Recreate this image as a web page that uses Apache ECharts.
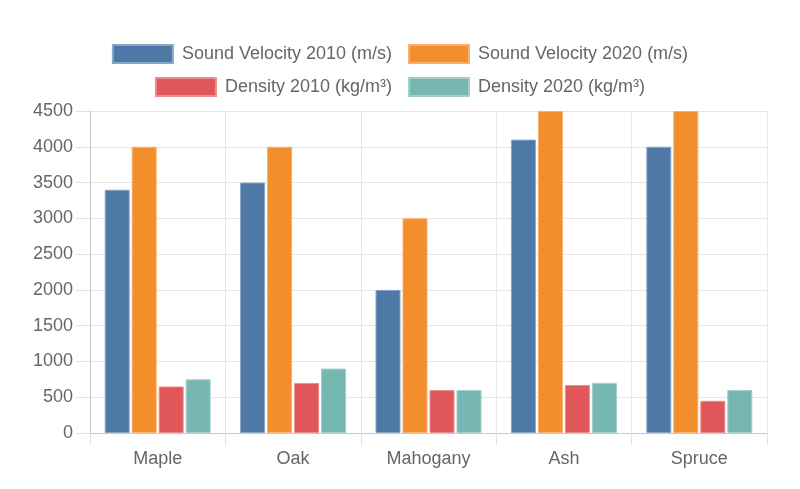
<!DOCTYPE html>
<html>
<head>
<meta charset="utf-8">
<script src="https://cdn.jsdelivr.net/npm/echarts@6/dist/echarts.min.js"></script>
<style>html,body{margin:0;padding:0;background:#fff}#c{width:800px;height:489px}</style>
</head>
<body>
<div id="c"></div>
<script>
const categories = ['Maple', 'Oak', 'Mahogany', 'Ash', 'Spruce'];
const soundVelocity2010 = [3400, 3500, 2000, 4100, 4000];
const soundVelocity2020 = [4000, 4000, 3000, 4500, 4500];
const density2010 = [650, 700, 600, 670, 450];
const density2020 = [750, 900, 600, 700, 600];
const yTicks = [0, 500, 1000, 1500, 2000, 2500, 3000, 3500, 4000, 4500];

const names = ['Sound Velocity 2010 (m/s)', 'Sound Velocity 2020 (m/s)', 'Density 2010 (kg/m³)', 'Density 2020 (kg/m³)'];
const colors = ['#4e79a7', '#f28e2b', '#e15759', '#76b7b2'];
const borders = ['#8aa7c6', '#f6b06f', '#ec8c8d', '#a3cfcb'];
const values = [soundVelocity2010, soundVelocity2020, density2010, density2020];

const font = 'Liberation Sans, Arial, Helvetica, sans-serif';
const chart = echarts.init(document.getElementById('c'));
const legendBase = {
  orient: 'horizontal',
  padding: 0,
  left: 'center',
  itemWidth: 60,
  itemHeight: 18,
  itemGap: 16,
  icon: 'rect',
  textStyle: { color: '#666', fontSize: 18, fontFamily: font, padding: [0, 0, 0, 4] }
};
chart.setOption({
  animation: false,
  color: colors,
  legend: [
    Object.assign({}, legendBase, { data: names.slice(0, 2), top: 44 }),
    Object.assign({}, legendBase, { data: names.slice(2, 4), top: 77 })
  ],
  grid: { left: 90, right: 33, top: 111, bottom: 56, containLabel: false },
  xAxis: {
    type: 'category',
    data: categories,
    axisLine: { show: true, lineStyle: { color: '#c8c8c8', width: 1 } },
    axisTick: { show: true, length: 12, lineStyle: { color: '#e0e0e0' } },
    splitLine: { show: true, lineStyle: { color: '#e6e6e6' } },
    axisLabel: { color: '#666', fontSize: 18, fontFamily: font, margin: 17 }
  },
  yAxis: {
    type: 'value',
    min: 0,
    max: 4500,
    interval: 500,
    axisLine: { show: true, lineStyle: { color: '#c8c8c8', width: 1 } },
    axisTick: { show: true, length: 14, lineStyle: { color: '#e0e0e0' } },
    splitLine: { show: true, lineStyle: { color: '#e6e6e6' } },
    axisLabel: {
      color: '#666', fontSize: 18, fontFamily: font, margin: 17,
      formatter: v => (yTicks.indexOf(v) >= 0 ? String(v) : '')
    }
  },
  series: values.map((d, i) => ({
    name: names[i],
    type: 'bar',
    data: d,
    barWidth: 25,
    barGap: '8%',
    itemStyle: { color: colors[i], borderColor: borders[i], borderWidth: 1 }
  }))
});
</script>
</body>
</html>
